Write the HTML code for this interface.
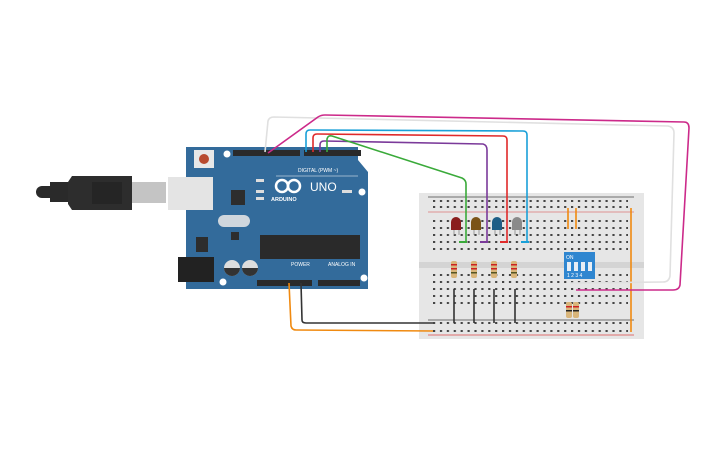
<!DOCTYPE html>
<html><head><meta charset="utf-8"><style>html,body{margin:0;padding:0;background:#fff}svg{display:block}</style></head><body>
<svg width="725" height="453" viewBox="0 0 725 453" xmlns="http://www.w3.org/2000/svg" font-family="Liberation Sans, sans-serif">
<defs>
<pattern id="h" x="433" y="0" width="6.9" height="453" patternUnits="userSpaceOnUse"><rect x="0" y="0" width="2.2" height="453" fill="#444"/></pattern>
</defs>
<!-- USB cable -->
<rect x="36" y="186" width="20" height="12" rx="6" fill="#2a2a2a"/>
<rect x="50" y="182" width="24" height="20" fill="#2a2a2a"/>
<path d="M72 176 L132 176 L132 210 L72 210 L68 204 L68 182 Z" fill="#2d2d2d"/>
<rect x="92" y="182" width="30" height="22" fill="#252525"/>
<rect x="132" y="182" width="34" height="21" fill="#c4c4c4"/>
<!-- Arduino -->
<path d="M186 147 L358 147 L358 160 L368 172 L368 289 L186 289 Z" fill="#336b9b"/>
<rect x="168" y="177" width="45" height="33" fill="#e4e4e4"/>
<rect x="194" y="150" width="20" height="18" fill="#e8e8e8"/><circle cx="204" cy="159" r="5" fill="#b84a2f"/>
<circle cx="227" cy="154" r="3.5" fill="#fff"/><circle cx="362" cy="192" r="3.5" fill="#fff"/><circle cx="364" cy="278" r="3.5" fill="#fff"/><circle cx="223" cy="282" r="3.5" fill="#fff"/>
<rect x="233" y="150" width="67" height="6" fill="#2a2a2a"/>
<rect x="304" y="150" width="57" height="6" fill="#2a2a2a"/>
<text x="298" y="172" font-size="5" fill="#fff">DIGITAL (PWM ~)</text>
<line x1="276" y1="176" x2="358" y2="176" stroke="#fff" stroke-width="0.5"/>
<circle cx="282" cy="186" r="6" fill="none" stroke="#fff" stroke-width="2.5"/><circle cx="294" cy="186" r="6" fill="none" stroke="#fff" stroke-width="2.5"/>
<text x="271" y="201" font-size="5.5" font-weight="bold" fill="#fff">ARDUINO</text>
<text x="310" y="191" font-size="12" fill="#fff">UNO</text>
<rect x="256" y="179" width="8" height="3" fill="#ddd"/><rect x="256" y="190" width="8" height="3" fill="#ddd"/><rect x="256" y="197" width="8" height="3" fill="#ddd"/><rect x="342" y="190" width="10" height="3" fill="#ddd"/>
<rect x="231" y="190" width="14" height="15" fill="#2d2d2d"/>
<rect x="218" y="215" width="32" height="12" rx="6" fill="#cfd6dd"/>
<rect x="196" y="237" width="12" height="15" fill="#2d2d2d"/><rect x="231" y="232" width="8" height="8" fill="#2d2d2d"/>
<rect x="260" y="235" width="100" height="24" fill="#2a2a2a"/>
<rect x="178" y="257" width="36" height="25" fill="#222"/>
<circle cx="232" cy="268" r="8" fill="#ddd"/><path d="M224 268 a8 8 0 0 0 16 0z" fill="#333"/>
<circle cx="250" cy="268" r="8" fill="#ddd"/><path d="M242 268 a8 8 0 0 0 16 0z" fill="#333"/>
<text x="291" y="266" font-size="5" fill="#fff">POWER</text><text x="328" y="266" font-size="5" fill="#fff">ANALOG IN</text>
<rect x="257" y="280" width="55" height="6" fill="#2a2a2a"/><rect x="318" y="280" width="42" height="6" fill="#2a2a2a"/>
<!-- Breadboard -->
<rect x="419" y="193" width="225" height="146" fill="#e6e6e6"/>
<rect x="419" y="262" width="225" height="6" fill="#d4d4d4"/>
<line x1="428" y1="197" x2="634" y2="197" stroke="#444" stroke-width="0.7"/>
<line x1="428" y1="212" x2="634" y2="212" stroke="#d77" stroke-width="0.8"/>
<line x1="428" y1="320" x2="634" y2="320" stroke="#444" stroke-width="0.7"/>
<line x1="428" y1="335" x2="634" y2="335" stroke="#d44" stroke-width="0.8"/>
<g fill="url(#h)">
<rect x="433" y="200" width="195" height="2"/><rect x="433" y="206" width="195" height="2"/>
<rect x="433" y="220" width="195" height="2"/><rect x="433" y="227" width="195" height="2"/><rect x="433" y="234" width="195" height="2"/><rect x="433" y="241" width="195" height="2"/><rect x="433" y="248" width="195" height="2"/>
<rect x="433" y="274" width="195" height="2"/><rect x="433" y="281" width="195" height="2"/><rect x="433" y="288" width="195" height="2"/><rect x="433" y="295" width="195" height="2"/><rect x="433" y="302" width="195" height="2"/>
<rect x="433" y="322" width="195" height="2"/><rect x="433" y="330" width="195" height="2"/>
</g>
<!-- LEDs -->
<g stroke="#888" stroke-width="0.8"><line x1="454" y1="228" x2="454" y2="235"/><line x1="459" y1="228" x2="459" y2="235"/><line x1="474" y1="228" x2="474" y2="235"/><line x1="479" y1="228" x2="479" y2="235"/><line x1="495" y1="228" x2="495" y2="235"/><line x1="500" y1="228" x2="500" y2="235"/><line x1="515" y1="228" x2="515" y2="235"/><line x1="520" y1="228" x2="520" y2="235"/></g>
<path d="M451 230 v-8 a5 5 0 0 1 10 0 v8z" fill="#8a1e1e"/>
<path d="M471 230 v-8 a5 5 0 0 1 10 0 v8z" fill="#7b5417"/>
<path d="M492 230 v-8 a5 5 0 0 1 10 0 v8z" fill="#1f5e86"/>
<path d="M512 230 v-8 a5 5 0 0 1 10 0 v8z" fill="#8a8a8a"/>
<g stroke-width="2"><line x1="459" y1="242" x2="467" y2="242" stroke="#3aaa3a"/><line x1="480" y1="242" x2="488" y2="242" stroke="#7b3a9a"/><line x1="500" y1="242" x2="508" y2="242" stroke="#e02a2a"/><line x1="521" y1="242" x2="529" y2="242" stroke="#1aa0d8"/></g>
<!-- black wires -->
<g stroke="#333" stroke-width="1.6"><line x1="454" y1="289" x2="454" y2="323"/><line x1="474" y1="289" x2="474" y2="323"/><line x1="494" y1="289" x2="494" y2="323"/><line x1="515" y1="289" x2="515" y2="323"/></g>
<!-- resistors -->
<g>
<rect x="451" y="261" width="6" height="17" rx="2" fill="#d9b57a"/><rect x="451" y="264" width="6" height="1.5" fill="#c22"/><rect x="451" y="268" width="6" height="1.5" fill="#c22"/><rect x="451" y="272" width="6" height="1.5" fill="#552"/>
<rect x="471" y="261" width="6" height="17" rx="2" fill="#d9b57a"/><rect x="471" y="264" width="6" height="1.5" fill="#c22"/><rect x="471" y="268" width="6" height="1.5" fill="#c22"/><rect x="471" y="272" width="6" height="1.5" fill="#552"/>
<rect x="491" y="261" width="6" height="17" rx="2" fill="#d9b57a"/><rect x="491" y="264" width="6" height="1.5" fill="#c22"/><rect x="491" y="268" width="6" height="1.5" fill="#c22"/><rect x="491" y="272" width="6" height="1.5" fill="#552"/>
<rect x="511" y="261" width="6" height="17" rx="2" fill="#d9b57a"/><rect x="511" y="264" width="6" height="1.5" fill="#c22"/><rect x="511" y="268" width="6" height="1.5" fill="#c22"/><rect x="511" y="272" width="6" height="1.5" fill="#552"/>
<rect x="566" y="302" width="6" height="16" rx="2" fill="#d9b57a"/><rect x="566" y="306" width="6" height="1.5" fill="#c22"/><rect x="566" y="310" width="6" height="1.5" fill="#222"/>
<rect x="573" y="302" width="6" height="16" rx="2" fill="#d9b57a"/><rect x="573" y="306" width="6" height="1.5" fill="#c22"/><rect x="573" y="310" width="6" height="1.5" fill="#222"/>
</g>
<!-- DIP switch -->
<rect x="564" y="252" width="31" height="27" fill="#2f86d0"/>
<text x="566" y="259" font-size="5" fill="#fff">ON</text>
<rect x="567" y="262" width="4" height="9" fill="#e8eef5"/><rect x="574" y="262" width="4" height="9" fill="#e8eef5"/><rect x="581" y="262" width="4" height="9" fill="#e8eef5"/><rect x="588" y="262" width="4" height="9" fill="#e8eef5"/>
<text x="567" y="277" font-size="5" fill="#fff">1 2 3 4</text>
<!-- orange on breadboard -->
<g stroke="#f08a10" stroke-width="1.6" fill="none"><line x1="568" y1="208" x2="568" y2="229"/><line x1="576" y1="208" x2="576" y2="229"/><line x1="631" y1="208" x2="631" y2="332"/></g>
<!-- wires from arduino -->
<g fill="none" stroke-width="1.6" stroke-linejoin="round">
<path d="M265 152 L268 121 Q269 117 274 117 L668 126 Q674 127 674 133 L670 276 Q669 282 663 282 L570 283" stroke="#e0e0e0"/>
<path d="M268 153 L318 117 Q321 115 325 115 L684 122 Q689 122 689 128 L680 285 Q679 290 673 290 L576 290" stroke="#cc2a8a"/>
<path d="M306 152 L306 134 Q306 130 310 130 L523 131 Q527 131 527 135 L527 242" stroke="#1aa0d8"/>
<path d="M313 152 L313 138 Q313 134 317 134 L503 136 Q507 136 507 140 L507 242" stroke="#e02a2a"/>
<path d="M320 152 L320 145 Q320 141 324 141 L483 144 Q487 145 487 150 L487 242" stroke="#7b3a9a"/>
<path d="M327 152 L327 139 Q328 135 332 136 L462 178 Q466 180 466 184 L466 242" stroke="#3aaa3a"/>
<path d="M301 283 L302 320 Q302 323 306 323 L433 323" stroke="#333"/>
<path d="M289 283 L291 326 Q292 330 296 330 L433 331" stroke="#f08a10"/>
</g>
</svg>
</body></html>
